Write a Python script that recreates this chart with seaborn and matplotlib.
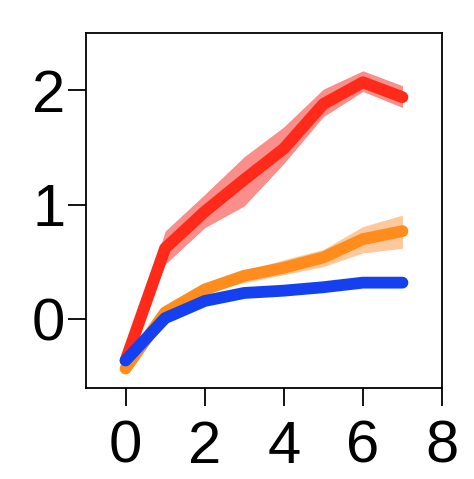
import matplotlib
matplotlib.use("Agg")
import matplotlib.pyplot as plt
import pandas as pd
import seaborn as sns

# values
steps = [0, 1, 2, 3, 4, 5, 6, 7]

red_mean = [-0.36, 0.62, 0.94, 1.22, 1.49, 1.88, 2.07, 1.94]
red_low = [-0.38, 0.48, 0.80, 0.99, 1.36, 1.77, 1.99, 1.85]
red_high = [-0.34, 0.77, 1.09, 1.42, 1.68, 2.01, 2.17, 2.04]

orange_mean = [-0.43, 0.06, 0.26, 0.38, 0.45, 0.54, 0.70, 0.77]
orange_low = [-0.45, 0.04, 0.23, 0.32, 0.39, 0.46, 0.58, 0.62]
orange_high = [-0.41, 0.08, 0.29, 0.42, 0.52, 0.61, 0.81, 0.91]

blue_mean = [-0.36, 0.01, 0.16, 0.23, 0.25, 0.28, 0.32, 0.32]

x_ticks = [0, 2, 4, 6, 8]
y_ticks = [0, 1, 2]

df = pd.DataFrame({"step": steps, "red": red_mean,
                   "orange": orange_mean, "blue": blue_mean})

sns.set_style("ticks")
plt.rcParams["font.family"] = ["Liberation Sans", "DejaVu Sans"]

fig = plt.figure(figsize=(4.74, 4.79), dpi=100)
ax = fig.add_axes([0.1814, 0.19, 0.7511, 0.741])

#shaded bands first
ax.fill_between(steps, red_low, red_high, color="#f98e8a", lw=0, zorder=1)
ax.fill_between(steps, orange_low, orange_high, color="#fdc99c", lw=0, zorder=1)

#lines on top, blue last
for col, c in [("red", "#ff2a1a"), ("orange", "#ff8c1c"), ("blue", "#1440f0")]:
    sns.lineplot(data=df, x="step", y=col, color=c, lw=8.5, ax=ax,
                 solid_capstyle="round", solid_joinstyle="round", zorder=2)

ax.set_xlim(-1, 8)
ax.set_ylim(-0.6, 2.5)
ax.set_xticks(x_ticks)
ax.set_yticks(y_ticks)
ax.set_xlabel("")
ax.set_ylabel("")
for s in ax.spines.values():
    s.set_linewidth(1.3)
    s.set_color("black")
ax.tick_params(axis="both", direction="out", length=13, width=1.3,
               labelsize=43, colors="black")
ax.tick_params(axis="x", pad=10)
ax.tick_params(axis="y", pad=2)

fig.savefig("out.png", dpi=100)
